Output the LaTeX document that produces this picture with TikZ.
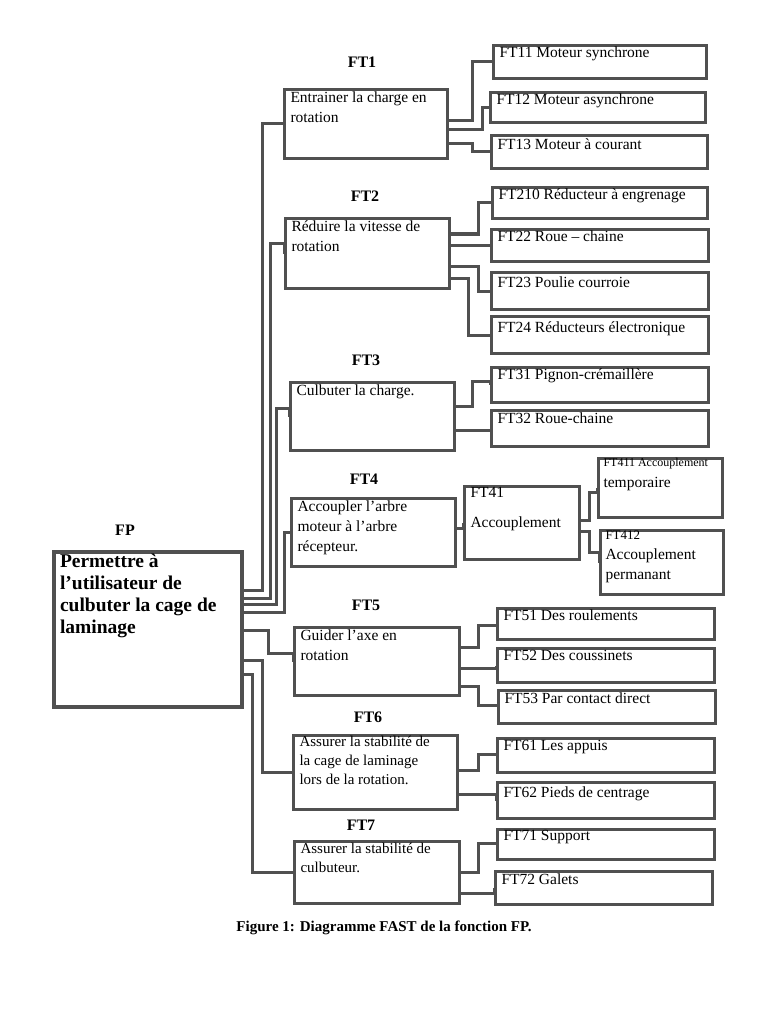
\documentclass[tikz,border=0pt]{standalone}
\usepackage{fontspec}
\setmainfont{Liberation Serif}
\definecolor{ln}{HTML}{505050}
\newcommand{\bx}[4]{\parbox[c][#2pt][t]{\dimexpr#1pt-12pt\relax}{\vspace*{#3pt}\raggedright #4}}
\begin{document}
\begin{tikzpicture}[x=1pt,y=-1pt,
  box/.style={draw=ln,line width=3pt,anchor=north west,inner ysep=0pt,inner xsep=6pt,align=left,
    font=\fontsize{15.5}{20}\selectfont},
  lbl/.style={font=\bfseries\fontsize{16}{18}\selectfont},
  ln/.style={draw=ln,line width=3pt}]
\useasboundingbox (0,0) rectangle (768,1024);
% FP
\node[lbl] (fpl) at (125,530) {FP};
\node[box,line width=4pt,font=\bfseries\fontsize{19.5}{22}\selectfont] (fp) at (52,550) {\bx{188}{155}{2}{Permettre à\\ l’utilisateur de\\ culbuter la cage de\\ laminage}};
% FT1
\node[lbl] (l1) at (362,62) {FT1};
\node[box] (ft1) at (283,88) {\bx{163}{69}{2}{Entrainer la charge en\\ rotation}};
\node[box] (ft11) at (492,44) {\bx{213}{33}{1}{FT11 Moteur synchrone}};
\node[box] (ft12) at (489,91) {\bx{215}{30}{1}{FT12 Moteur asynchrone}};
\node[box] (ft13) at (490,134) {\bx{216}{33}{3}{FT13 Moteur à courant}};
% FT2
\node[lbl] (l2) at (365,196) {FT2};
\node[box] (ft2) at (284,217) {\bx{164}{70}{2}{Réduire la vitesse de\\ rotation}};
\node[box] (ft21) at (491,186) {\bx{215}{31}{1}{FT210 Réducteur à engrenage}};
\node[box] (ft22) at (490,228) {\bx{217}{32}{1}{FT22 Roue – chaine}};
\node[box] (ft23) at (490,271) {\bx{217}{37}{4}{FT23 Poulie courroie}};
\node[box] (ft24) at (490,315) {\bx{217}{37}{5}{FT24 Réducteurs électronique}};
% FT3
\node[lbl] (l3) at (366,360) {FT3};
\node[box] (ft3) at (289,381) {\bx{164}{68}{2}{Culbuter la charge.}};
\node[box] (ft31) at (490,366) {\bx{217}{35}{1}{FT31 Pignon-crémaillère}};
\node[box] (ft32) at (490,409) {\bx{217}{36}{2}{FT32 Roue-chaine}};
% FT4
\node[lbl] (l4) at (364,479) {FT4};
\node[box] (ft4) at (290,497) {\bx{164}{68}{2}{Accoupler l’arbre\\ moteur à l’arbre\\ récepteur.}};
\node[box] (ft41) at (463,485) {\bx{115}{73}{1}{FT41\\[10pt]Accouplement}};
\node[box,inner xsep=5pt] (ft411) at (597,457) {\bx{126}{59}{0}{{\fontsize{12}{14}\selectfont FT411 Accouplement}\\[1pt]temporaire}};
\node[box,inner xsep=5pt] (ft412) at (599,529) {\bx{125}{64}{0}{{\fontsize{13}{15}\selectfont FT412}\\Accouplement\\permanant}};
% FT5
\node[lbl] (l5) at (366,605) {FT5};
\node[box] (ft5) at (293,626) {\bx{165}{68}{2}{Guider l’axe en\\ rotation}};
\node[box] (ft51) at (496,607) {\bx{217}{31}{1}{FT51 Des roulements}};
\node[box] (ft52) at (496,647) {\bx{217}{34}{2}{FT52 Des coussinets}};
\node[box] (ft53) at (497,689) {\bx{217}{33}{2}{FT53 Par contact direct}};
% FT6
\node[lbl] (l6) at (368,717) {FT6};
\node[box,font=\fontsize{15}{19}\selectfont] (ft6) at (292,734) {\bx{164}{74}{1}{Assurer la stabilité de\\ la cage de laminage\\ lors de la rotation.}};
\node[box] (ft61) at (496,737) {\bx{217}{34}{2}{FT61 Les appuis}};
\node[box] (ft62) at (496,781) {\bx{217}{36}{4}{FT62 Pieds de centrage}};
% FT7
\node[lbl] (l7) at (361,825) {FT7};
\node[box,font=\fontsize{15}{19}\selectfont] (ft7) at (293,840) {\bx{165}{62}{2}{Assurer la stabilité de\\ culbuteur.}};
\node[box] (ft71) at (496,828) {\bx{217}{30}{1}{FT71 Support}};
\node[box] (ft72) at (494,870) {\bx{217}{33}{2}{FT72 Galets}};
% caption
\node[font=\bfseries\fontsize{15}{17}\selectfont] (cap) at (384,928) {Figure 1: Diagramme FAST de la fonction FP.};
% FP connectors
\draw[ln] (fp.east|-0,590) -- (262,590) |- (ft1.west);
\draw[ln] (fp.east|-0,598) -- (270,598) |- (ft2.west|-0,243) -- (ft2.west);
\draw[ln] (fp.east|-0,604) -- (276,604) |- (ft3.west|-0,408) -- (ft3.west);
\draw[ln] (fp.east|-0,612) -- (284,612) |- (ft4.west);
\draw[ln] (fp.east|-0,630) -- (268,630) |- (ft5.west|-0,653) -- (ft5.west);
\draw[ln] (fp.east|-0,660) -- (262,660) |- (ft6.west);
\draw[ln] (fp.east|-0,674) -- (252,674) |- (ft7.west);
% FT1
\draw[ln] (ft1.east|-0,121) -- (472,121) |- (ft11.west);
\draw[ln] (ft1.east|-0,130) -- (482,130) |- (ft12.west);
\draw[ln] (ft1.east|-0,144) -- (472,144) |- (ft13.west);
% FT2
\draw[ln] (ft2.east|-0,234) -- (478,234) |- (ft21.west);
\draw[ln] (ft2.east|-ft22.west) -- (ft22.west);
\draw[ln] (ft2.east|-0,266) -- (478,266) |- (ft23.west);
\draw[ln] (ft2.east|-0,278) -- (468,278) |- (ft24.west);
% FT3
\draw[ln] (ft3.east|-0,406) -- (472,406) |- (ft31.west|-0,381) -- (ft31.west);
\draw[ln] (ft3.east|-0,430) -- (ft32.west|-0,430) -- (ft32.west);
% FT4
\draw[ln] (ft4.east|-0,528) -- (ft41.west|-0,528) -- (ft41.west);
\draw[ln] (ft41.east|-0,520) -- (589,520) |- (ft411.west|-0,492) -- (ft411.west);
\draw[ln] (ft41.east|-0,531) -- (589,531) |- (ft412.west|-0,552) -- (ft412.west);
% FT5
\draw[ln] (ft5.east|-0,647) -- (478,647) |- (ft51.west|-0,625) -- (ft51.west);
\draw[ln] (ft5.east|-0,668) -- (ft52.west|-0,668) -- (ft52.west);
\draw[ln] (ft5.east|-0,686) -- (478,686) |- (ft53.west|-0,705) -- (ft53.west);
% FT6
\draw[ln] (ft6.east|-0,770) -- (478,770) |- (ft61.west|-0,754) -- (ft61.west);
\draw[ln] (ft6.east|-0,794) -- (ft62.west|-0,794) -- (ft62.west);
% FT7
\draw[ln] (ft7.east|-0,872) -- (478,872) |- (ft71.west|-0,843) -- (ft71.west);
\draw[ln] (ft7.east|-0,893) -- (ft72.west|-0,893) -- (ft72.west);
\end{tikzpicture}
\end{document}
